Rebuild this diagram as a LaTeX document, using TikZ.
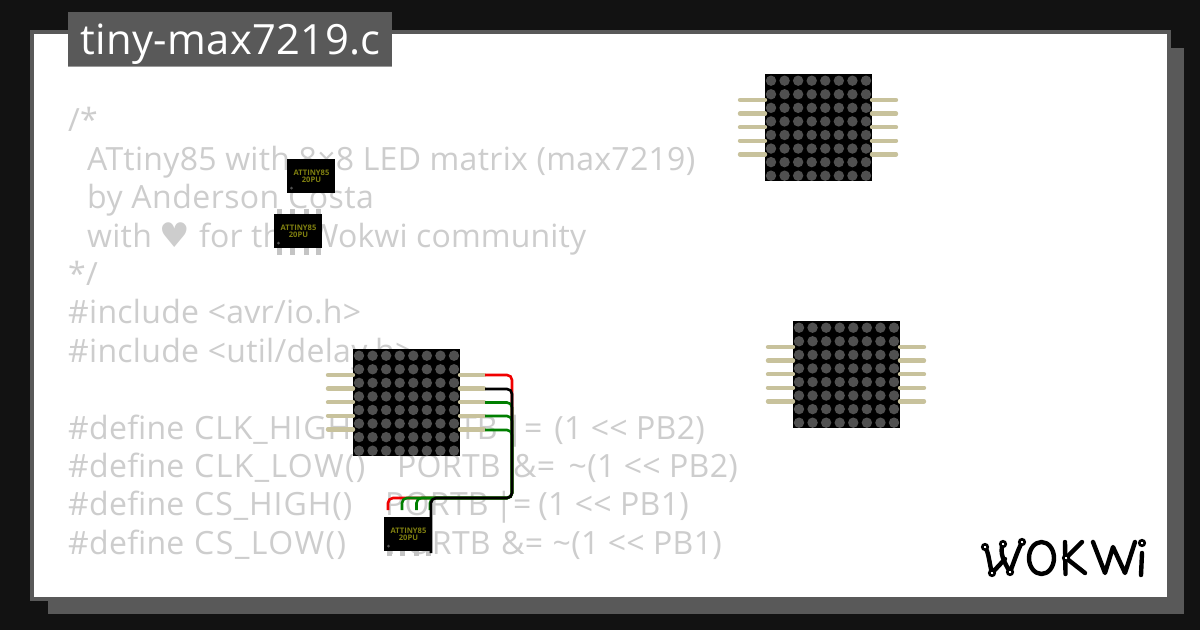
\documentclass[tikz,border=0pt]{standalone}
\usepackage{fontspec}
\setmainfont[LetterSpace=0.9]{Open Sans}
\newfontfamily\dejavu{DejaVu Sans}
\newfontfamily\chipfont{Open Sans}
\definecolor{bgdark}{HTML}{121212}
\definecolor{frame}{HTML}{595959}
\definecolor{codegray}{HTML}{CDCDCD}
\definecolor{pin}{HTML}{C8C29C}
\definecolor{led}{HTML}{505050}
\definecolor{chiptext}{HTML}{808010}
\definecolor{wgreen}{HTML}{007F00}
\definecolor{wred}{HTML}{F00000}
\definecolor{chippin}{HTML}{C4C4C4}
\newcommand{\spc}[1]{\addfontfeature{LetterSpace=#1}}
\tikzset{
  x=1pt,y=-1pt,
  code/.style={anchor=base west,inner sep=0,text=codegray,font=\fontsize{32}{38}\selectfont},
  coderight/.style={code,anchor=base east},
  pinline/.style={draw=pin,line width=4.4,line cap=round},
  matbody/.style={fill=black,draw=none,minimum width=107,minimum height=107,inner sep=0,outer sep=0,rectangle},
  chipbody/.style={fill=black,draw=none,minimum width=48,minimum height=34,inner sep=0,outer sep=0,rectangle},
  chiplabel/.style={text=chiptext,font=\chipfont\fontsize{7.6}{8}\selectfont\bfseries,align=center,inner sep=0},
  wirel/.style={line width=2.6,rounded corners=5,line cap=butt},
  logo/.style={draw=black,line width=4.4,line cap=round,line join=round},
  ring/.style={draw=black,fill=white,line width=2.6,circle,minimum size=5.5,inner sep=0}
}
\newcommand{\ledmatrix}[3]{% name, x, y (top-left)
  \node[matbody,anchor=north west] (#1) at (#2,#3) {};
  \foreach \i in {0,...,4}{
    \draw[pinline] ({#2-25},{#3+26+13.6*\i}) -- ({#2},{#3+26+13.6*\i});
    \draw[pinline] ({#2+107},{#3+26+13.6*\i}) -- ({#2+131},{#3+26+13.6*\i});
  }
  \foreach \i in {0,...,7}\foreach \j in {0,...,7}{
    \fill[led] ({#2+6+13.57*\i},{#3+6.7+13.57*\j}) circle (5.2);
  }
}
\newcommand{\attiny}[3]{% name, x, y (top-left)
  \node[chipbody,anchor=north west] (#1) at (#2,#3) {};
  \node[chiplabel] (#1t) at ({#2+24.5},{#3+17.5}) {ATTINY85\\[-0.8pt]20PU};
  \fill[led] ({#2+4.5},{#3+29}) circle (1.5);
}
\begin{document}
\begin{tikzpicture}
\useasboundingbox (0,0) rectangle (1200,630);
\fill[bgdark] (0,0) rectangle (1200,630);
\fill[frame] (48,48) rectangle (1184,613.5);
\fill[frame] (30,30) rectangle (1171,601);
\fill[white] (34,34) rectangle (1167,597);
% code
\node[code] (c1) at (68,131.8) {/*};
\node[code] (c2) at (87,170.2) {ATtiny85 with 8×8 LED matrix (max7219)};
\node[code] (c3) at (87,208.6) {\spc{1.4}by Anderson Costa};
\node[code] (c4a) at (87,247) {with};
\node[code] (c4b) at (159,247) {\dejavu\fontsize{34}{38}\selectfont ♥};
\node[code] (c4c) at (199,247) {\spc{0.5}for the Wokwi community};
\node[code] (c5) at (68,285.4) {*/};
\node[code] (c6) at (68,323.8) {\#include <avr/io.h>};
\node[code] (c7) at (68,362.2) {\#include <util/delay.h>};
% CLK_HIGH
\node[code] (c8a) at (68,439) {\#define};
\node[code] (c8b) at (194,439) {\spc{3}CLK\_HIGH()};
\node[code] (c8c) at (394,439) {PORTB};
\node[code] (c8d) at (506,439) {|=};
\node[coderight] (c8e) at (705,439) {(1 <\kern0pt< PB2)};
% CLK_LOW
\node[code] (c9a) at (68,477.4) {\#define};
\node[code] (c9b) at (194,477.4) {\spc{4.4}CLK\_LOW()};
\node[code] (c9c) at (397,477.4) {PORTB};
\node[code] (c9d) at (513,477.4) {\&=};
\node[coderight] (c9e) at (738,477.4) {\textasciitilde(1 <\kern0pt< PB2)};
% CS_HIGH
\node[code] (c10a) at (68,515.8) {\#define};
\node[code] (c10b) at (194,515.8) {\spc{3}CS\_HIGH()};
\node[code] (c10c) at (385,515.8) {PORTB};
\node[code] (c10d) at (495,515.8) {|=};
\node[coderight] (c10e) at (689,515.8) {(1 <\kern0pt< PB1)};
% CS_LOW
\node[code] (c11a) at (68,554.2) {\#define};
\node[code] (c11b) at (194,554.2) {\spc{4.8}CS\_LOW()};
\node[code] (c11c) at (387,554.2) {PORTB};
\node[code] (c11d) at (501,554.2) {\&=};
\node[coderight] (c11e) at (722,554.2) {\textasciitilde(1 <\kern0pt< PB1)};
% title
\fill[frame] (68,12) rectangle (392,66);
\draw[color=gray!80,line width=1] (68,66) -- (392,66);
\node[anchor=base west,text=white,inner sep=0,font=\fontsize{41.7}{44}\selectfont] (title) at (80,54) {tiny-max7219.c};
% chips
\foreach \xx in {277,290,304,316}{\fill[chippin] (\xx,209) rectangle ++(5,5);\fill[chippin] (\xx,248) rectangle ++(5,7);}
\foreach \xx in {387,400,414,426}{\fill[chippin] (\xx,551) rectangle ++(5,5);}
\attiny{chipa}{287}{159}
\attiny{chipb}{274}{214}
\attiny{chipc}{384}{517}
% matrices
\ledmatrix{mata}{765}{74}
\ledmatrix{matb}{793}{321}
\ledmatrix{matc}{353}{349}
% wires
\coordinate (r1) at (485,375); \coordinate (r2) at (485,389); \coordinate (r3) at (485,402.5); \coordinate (r4) at (485,416); \coordinate (r5) at (485,430);
\coordinate (t1) at (388,510); \coordinate (t2) at (402,510); \coordinate (t3) at (416.5,510); \coordinate (t4) at (430,510); \coordinate (t5) at (431,553);
\draw[wirel,wred] (r1) -| (512,498) -| (t1);
\draw[wirel,wgreen] (r3) -| (512,498) -| (t2);
\draw[wirel,wgreen] (r4) -| (512,498) -| (t3);
\draw[wirel,wgreen] (r5) -| (512,498) -| (t4);
\draw[wirel,black] (r2) -| (512,498) -| (t5);
% logo
\coordinate (wa) at (985,547); \coordinate (wb) at (1003,544); \coordinate (wc) at (1022,542);
\coordinate (wd) at (992,573); \coordinate (we) at (1010,572);
\draw[logo] (wa) .. controls (989,553) and (989,562) .. (wd) -- (1005,559);
\draw[logo] (wb) .. controls (999,552) and (1004,562) .. (we) .. controls (1014,562) and (1017,552) .. (wc);
\node[ring] (w1) at (wa) {};
\node[ring] (w2) at (wb) {};
\node[ring] (w3) at (wc) {};
\node[ring] (w4) at (wd) {};
\node[ring] (w5) at (we) {};
\draw[logo] (1041.5,558) ellipse (12.5 and 16);
\coordinate (ka) at (1065,542); \coordinate (kb) at (1065.5,574); \coordinate (kc) at (1082,542); \coordinate (kd) at (1085,573);
\draw[logo] (ka) -- (kb);
\draw[logo] (kc) -- (1066,558) -- (kd);
\node[ring] (k1) at (1066,558) {};
\draw[logo] (1093,542) -- (1105,573) -- (1113,547) -- (1125,573) -- (1135,542);
\coordinate (ia) at (1142,553); \coordinate (ib) at (1141,575);
\draw[logo] (ia) -- (ib);
\node[ring] (i1) at (1142,543) {};
\end{tikzpicture}
\end{document}
